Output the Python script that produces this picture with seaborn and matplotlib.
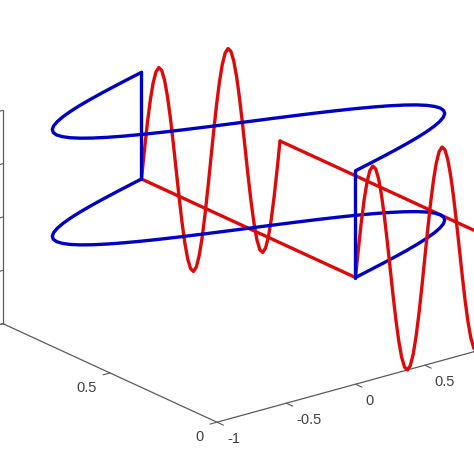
import matplotlib
matplotlib.use("Agg")
import matplotlib.pyplot as plt
import numpy as np
import seaborn as sns

# values, axis units
wave_x=[i/48 for i in range(49)]
wave_z=[0,.259,.5,.707,.866,.966,1,.966,.866,.707,.5,.259,
        0,-.259,-.5,-.707,-.866,-.966,-1,-.966,-.866,-.707,-.5,-.259,
        0,.259,.5,.707,.866,.966,1,.966,.866,.707,.5,.259,
        0,-.259,-.5,-.707,-.866,-.966,-1,-.966,-.866,-.707,-.5,-.259,0]
loop_y=[1-i/48 for i in range(49)]
loop_x=[0,-.131,-.259,-.383,-.5,-.609,-.707,-.793,-.866,-.924,-.966,-.991,-1,
        -.991,-.966,-.924,-.866,-.793,-.707,-.609,-.5,-.383,-.259,-.131,
        0,.131,.259,.383,.5,.609,.707,.793,.866,.924,.966,.991,1,
        .991,.966,.924,.866,.793,.707,.609,.5,.383,.259,.131,0]
x_ticks=[-1,-0.5,0,0.5]
x_tick_labels=["-1","-0.5","0","0.5"]
y_ticks=[0,0.5,1]
y_tick_labels=["0","0.5",""]
z_ticks=[-1,-0.5,0,0.5,1]

RED="#dc0a0a"
BLUE="#0000c4"
GREY="#5a5a5a"

# orthographic view of the 3d box, in pixels
def view(x,y,z):
    x,y,z=np.broadcast_arrays(np.asarray(x,float),np.asarray(y,float),np.asarray(z,float))
    return 355.5+138.5*x-214*y,277.5-38*x-98.5*y-106.7*z

def line(x,y,z,color,lw):
    sx,sy=view(x,y,z)
    sns.lineplot(x=sx,y=sy,sort=False,estimator=None,color=color,linewidth=lw,legend=False,ax=ax)

sns.set_theme(style="white")
plt.rcParams["font.family"]=["Liberation Sans","DejaVu Sans"]

fig=plt.figure(figsize=(4.74,4.74),dpi=100)
ax=fig.add_axes([0,0,1,1])

# box edges
line([-1,1],[0,0],[-1,-1],GREY,0.9)
line([-1,-1],[0,1],[-1,-1],GREY,0.9)
line([-1,-1],[1,1],[-1,1],GREY,0.9)

for t,lab in zip(x_ticks,x_tick_labels):
    line([t,t],[0,-0.03],[-1,-1],GREY,0.8)
    sx,sy=view(t,0,-1)
    ax.text(sx+10,sy+16.5,lab,ha="left",va="center",fontsize=10.5,color="#404040")
for t,lab in zip(y_ticks,y_tick_labels):
    line([-1,-1.05],[t,t],[-1,-1],GREY,0.8)
    sx,sy=view(-1,t,-1)
    ax.text(sx-13,sy+15,lab,ha="right",va="center",fontsize=10.5,color="#404040")
for t in z_ticks:
    line([-1,-1.05],[1,1],[t,t],GREY,0.8)

# drawn back to front: far red first, then blue, then near wave
line(wave_x,[1]*49,wave_z,RED,2.4)
line([0,0],[1,0],[0,0],RED,2.4)
line([1,1],[1,0],[0,0],RED,2.4)

line(loop_x,loop_y,[0]*49,BLUE,2.4)
line(loop_x,loop_y,[1]*49,BLUE,2.4)

line(wave_x,[0]*49,wave_z,RED,2.4)

line([0,0],[1,1],[0,1],BLUE,2.4)
line([0,0],[0,0],[0,1],BLUE,2.4)

ax.set_xlim(0,474)
ax.set_ylim(474,0)
ax.axis("off")
fig.savefig("out.png",dpi=100)
